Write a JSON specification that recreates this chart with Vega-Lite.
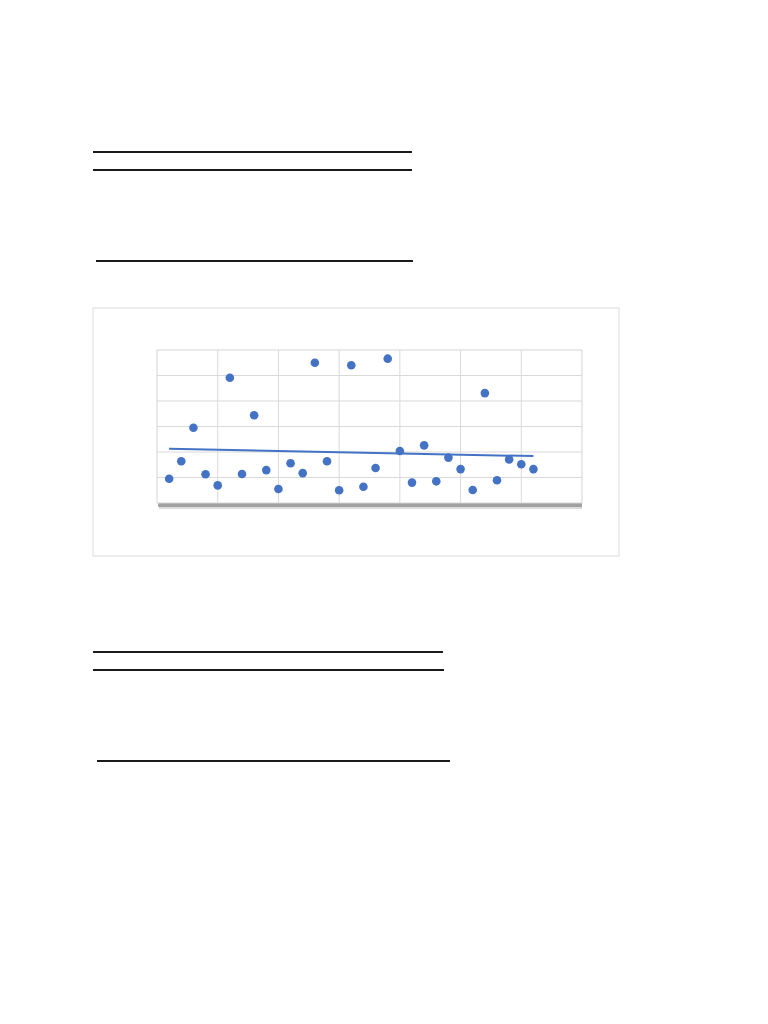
{
  "$schema": "https://vega.github.io/schema/vega-lite/v6.json",
  "width": 768,
  "height": 1024,
  "padding": 0,
  "autosize": {"type": "none"},
  "background": "white",
  "config": {"view": {"stroke": null}},
  "datasets": {
    "page_lines": [
      {"a": 93, "b": 412, "row": 152},
      {"a": 93, "b": 412, "row": 170},
      {"a": 96, "b": 413, "row": 261},
      {"a": 93, "b": 443, "row": 652},
      {"a": 93, "b": 444, "row": 670},
      {"a": 97, "b": 450, "row": 761}
    ],
    "points": [
      {"i": 1, "v": 9.5},
      {"i": 2, "v": 16.4},
      {"i": 3, "v": 29.5},
      {"i": 4, "v": 11.3},
      {"i": 5, "v": 6.9},
      {"i": 6, "v": 49.1},
      {"i": 7, "v": 11.4},
      {"i": 8, "v": 34.4},
      {"i": 9, "v": 12.9},
      {"i": 10, "v": 5.5},
      {"i": 11, "v": 15.6},
      {"i": 12, "v": 11.7},
      {"i": 13, "v": 55.0},
      {"i": 14, "v": 16.4},
      {"i": 15, "v": 5.0},
      {"i": 16, "v": 54.0},
      {"i": 17, "v": 6.4},
      {"i": 18, "v": 13.7},
      {"i": 19, "v": 56.6},
      {"i": 20, "v": 20.4},
      {"i": 21, "v": 8.0},
      {"i": 22, "v": 22.6},
      {"i": 23, "v": 8.5},
      {"i": 24, "v": 17.8},
      {"i": 25, "v": 13.3},
      {"i": 26, "v": 5.1},
      {"i": 27, "v": 43.1},
      {"i": 28, "v": 8.9},
      {"i": 29, "v": 17.1},
      {"i": 30, "v": 15.2},
      {"i": 31, "v": 13.3}
    ],
    "xgrid": [{"g": 5}, {"g": 10}, {"g": 15}, {"g": 20}, {"g": 25}, {"g": 30}],
    "ygrid": [{"g": 10}, {"g": 20}, {"g": 30}, {"g": 40}, {"g": 50}]
  },
  "layer": [
    {
      "layer": [
        {
          "data": {"values": [{}]},
          "mark": {"type": "rect", "fill": "white", "stroke": "#dcdcdc", "strokeWidth": 1},
          "encoding": {
            "x": {"datum": 93, "type": "quantitative", "scale": {"domain": [0, 768], "nice": false, "zero": false}, "axis": null},
            "x2": {"datum": 619},
            "y": {"datum": 308, "type": "quantitative", "scale": {"domain": [0, 1024], "nice": false, "zero": false, "reverse": true}, "axis": null},
            "y2": {"datum": 556}
          }
        },
        {
          "data": {"name": "page_lines"},
          "mark": {"type": "rule", "stroke": "#1a1a1a", "strokeWidth": 1.8},
          "encoding": {
            "x": {"field": "a", "type": "quantitative"},
            "x2": {"field": "b"},
            "y": {"field": "row", "type": "quantitative"}
          }
        }
      ]
    },
    {
      "layer": [
        {
          "data": {"values": [{}]},
          "mark": {"type": "rect", "fill": "#c4c4c4", "opacity": 0.6, "xOffset": 2, "yOffset": 6},
          "encoding": {
            "x": {"datum": 0, "type": "quantitative", "scale": {"domain": [0, 35], "range": [157, 582], "nice": false, "zero": false}, "axis": null},
            "x2": {"datum": 35},
            "y": {"datum": 0, "type": "quantitative", "scale": {"domain": [0, 60], "range": [503, 350], "nice": false, "zero": false}, "axis": null},
            "y2": {"datum": 60}
          }
        },
        {
          "data": {"values": [{}]},
          "mark": {"type": "rect", "fill": "#7a7a7a", "opacity": 0.6, "xOffset": 1, "yOffset": 4},
          "encoding": {
            "x": {"datum": 0, "type": "quantitative"},
            "x2": {"datum": 35},
            "y": {"datum": 0, "type": "quantitative"},
            "y2": {"datum": 60}
          }
        },
        {
          "data": {"values": [{}]},
          "mark": {"type": "rect", "fill": "white", "stroke": "#d4d4d4", "strokeWidth": 1},
          "encoding": {
            "x": {"datum": 0, "type": "quantitative"},
            "x2": {"datum": 35},
            "y": {"datum": 0, "type": "quantitative"},
            "y2": {"datum": 60}
          }
        },
        {
          "data": {"name": "xgrid"},
          "mark": {"type": "rule", "stroke": "#d9d9d9", "strokeWidth": 1},
          "encoding": {
            "x": {"field": "g", "type": "quantitative"},
            "y": {"datum": 0, "type": "quantitative"},
            "y2": {"datum": 60}
          }
        },
        {
          "data": {"name": "ygrid"},
          "mark": {"type": "rule", "stroke": "#d9d9d9", "strokeWidth": 1},
          "encoding": {
            "y": {"field": "g", "type": "quantitative"},
            "x": {"datum": 0, "type": "quantitative"},
            "x2": {"datum": 35}
          }
        },
        {
          "data": {"name": "points"},
          "mark": {"type": "circle", "size": 74, "color": "#4472C4", "opacity": 1},
          "encoding": {
            "x": {"field": "i", "type": "quantitative"},
            "y": {"field": "v", "type": "quantitative"}
          }
        },
        {
          "data": {"name": "points"},
          "transform": [{"regression": "v", "on": "i"}],
          "mark": {"type": "line", "color": "#4472C4", "strokeWidth": 2},
          "encoding": {
            "x": {"field": "i", "type": "quantitative"},
            "y": {"field": "v", "type": "quantitative"}
          }
        }
      ]
    }
  ],
  "resolve": {"scale": {"x": "independent", "y": "independent"}}
}
